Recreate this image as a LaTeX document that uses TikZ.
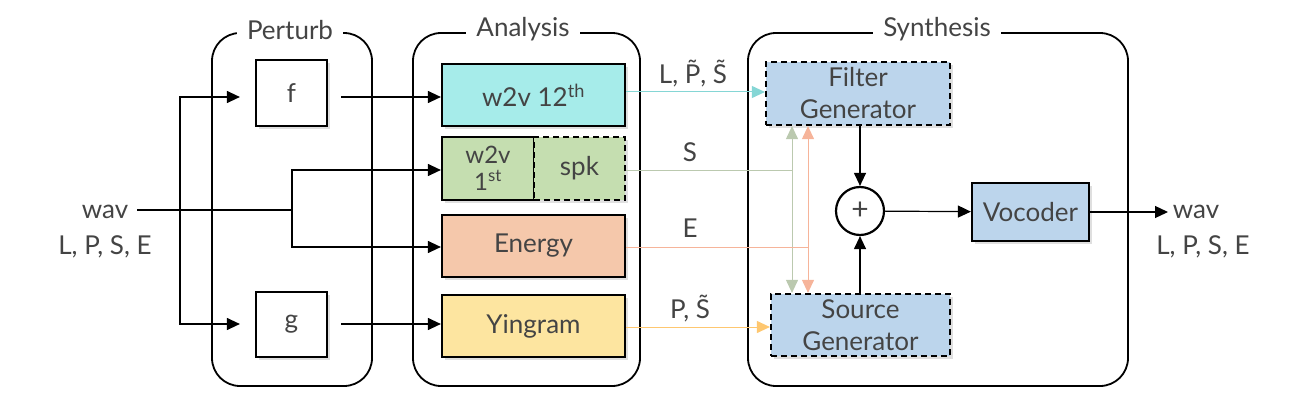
\documentclass[tikz,border=0pt]{standalone}
\usepackage{fontspec}
\setmainfont{Lato}
\usetikzlibrary{arrows.meta,shadows}
\definecolor{cy}{HTML}{A6ECEA}
\definecolor{gr}{HTML}{C5DEB0}
\definecolor{en}{HTML}{F5C8AB}
\definecolor{yi}{HTML}{FDE5A0}
\definecolor{bl}{HTML}{BCD5EC}
\definecolor{tx}{HTML}{444444}
\begin{document}
\begin{tikzpicture}[x=1pt,y=-1pt,
  every node/.style={text=tx,font=\fontsize{26}{30}\selectfont},
  grp/.style={draw,line width=1.8pt,rounded corners=28pt},
  ttl/.style={fill=white,inner xsep=10pt,inner ysep=1pt},
  box/.style={draw,line width=2.2pt,drop shadow={opacity=0.25,shadow xshift=3pt,shadow yshift=-3pt}},
  dsh/.style={dash pattern=on 6pt off 4pt},
  arr/.style={-{Triangle[length=13pt,width=12pt]},line width=1.2pt},
  carr/.style={-{Triangle[length=13pt,width=12pt]},line width=1pt,draw=#1},
  lbl/.style={inner sep=1pt}]
\useasboundingbox (0,0) rectangle (1300,401);
% groups
\draw[grp] (212,33) rectangle (372,386);
\draw[grp] (413,33) rectangle (640,386);
\draw[grp] (748,33) rectangle (1128,386);
\node[ttl] (tp) at (290,30) {Perturb};
\node[ttl] (ta) at (523,29) {Analysis};
\node[ttl] (ts) at (937,29) {Synthesis};
% nodes
\node[box, fill=white, minimum width=71pt, minimum height=66pt] (f) at (291.5,93) {f};
\node[box, fill=white, minimum width=71pt, minimum height=65pt] (g) at (291.5,324.5) {g};
\node[box, fill=cy, minimum width=183pt, minimum height=62pt] (w12) at (533.5,95) {w2v 12\textsuperscript{th}};
\node[box, fill=gr, minimum width=92pt, minimum height=63pt, align=center,inner sep=0pt,font=\fontsize{24}{27}\selectfont] (w1) at (488,168.5) {w2v\\1\textsuperscript{st}};
\node[box, fill=gr, dsh, minimum width=91pt, minimum height=63pt] (spk) at (579.5,168.5) {spk};
\node[box, fill=en, minimum width=183pt, minimum height=62pt] (en) at (533.5,246) {Energy};
\node[box, fill=yi, minimum width=183pt, minimum height=62pt] (yi) at (533.5,326) {Yingram};
\node[box, fill=bl, dsh, minimum width=184pt, minimum height=63pt, align=center, inner sep=0pt] (fg) at (858,93.5) {Filter\\[2pt]Generator};
\node[box, fill=bl, dsh, minimum width=179pt, minimum height=62pt, align=center, inner sep=0pt] (sg) at (860.5,325) {Source\\[2pt]Generator};
\node[draw,circle,line width=2.2pt,minimum size=48pt,inner sep=0pt,font=\fontsize{30}{30}\selectfont] (plus) at (860,211) {+};
\node[box, fill=bl, minimum width=117pt, minimum height=58pt] (voc) at (1030.5,212) {Vocoder};
% io labels
\node (win) at (105,212) {wav};
\node (win2) at (105,247) {L, P, S, E};
\node (wout) at (1196,212) {wav};
\node (wout2) at (1203,247) {L, P, S, E};
\coordinate (s) at (137,210);
\coordinate (b1) at (180,210);
\coordinate (b2) at (292,210);
% black connectors
\draw[line width=1.2pt] (s) -- (b2);
\draw[arr] (b1) |- ([xshift=-15pt]f.west |- 0,97);
\draw[arr] (b1) |- ([xshift=-15pt]g.west |- 0,324);
\draw[arr] (b2) |- (w1.west |- 0,170);
\draw[arr] (b2) |- (en.west |- 0,247);
\draw[arr] ([xshift=13pt]f.east |- 0,97) -- (w12.west |- 0,97);
\draw[arr] ([xshift=13pt]g.east |- 0,324) -- (yi.west |- 0,324);
\draw[arr] (fg.south -| plus) -- (plus);
\draw[arr] (sg.north -| plus) -- (plus);
\draw[arr] (plus) -- (voc);
\draw[arr] (voc.east) -- (1168,212);
% coloured connectors
\draw[carr=cy!80!teal] (w12.east |- 0,92) -- (fg.west |- 0,92);
\draw[carr=yi!70!orange] (yi.east |- 0,327) -- (sg.west |- 0,327);
\coordinate (gx) at (792,170);
\coordinate (ex) at (808,247);
\draw[line width=1pt,gr!80!black!70] (spk.east |- 0,170) -- (gx);
\draw[carr=gr!80!black!70] (gx) -- (gx |- fg.south);
\draw[carr=gr!80!black!70] (gx) -- (gx |- sg.north);
\draw[line width=1pt,en!90!red] (en.east |- 0,247) -- (ex);
\draw[carr=en!90!red] (ex) -- (ex |- fg.south);
\draw[carr=en!90!red] (ex) -- (ex |- sg.north);
% channel labels
\node[lbl] (l1) at (693,74) {L, \~{P}, \~{S}};
\node[lbl] (l2) at (690,152) {S};
\node[lbl] (l3) at (690,228) {E};
\node[lbl] (l4) at (690,309) {P, \~{S}};
\end{tikzpicture}
\end{document}
